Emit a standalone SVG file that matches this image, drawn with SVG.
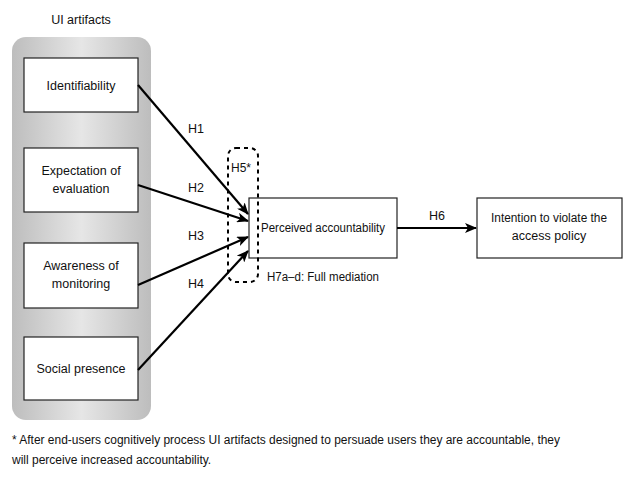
<svg xmlns="http://www.w3.org/2000/svg" width="638" height="478" viewBox="0 0 638 478">
<style>
text{font-family:"Liberation Sans",Arial,sans-serif;font-size:12.5px;fill:#111}
.box{fill:#fff;stroke:#222;stroke-width:1.2}
.c{text-anchor:middle}
.ar{stroke:#000;stroke-width:2.2;fill:none;marker-end:url(#ah)}
</style>
<defs>
<linearGradient id="g" x1="0" x2="1"><stop offset="0" stop-color="#bdbdbd"/><stop offset="0.5" stop-color="#e6e6e6"/><stop offset="1" stop-color="#bdbdbd"/></linearGradient>
<marker id="ah" markerWidth="12" markerHeight="10" refX="11" refY="5" orient="auto" markerUnits="userSpaceOnUse" viewBox="0 0 12 10"><path d="M0,0 L12,5 L0,10 L3,5 z" fill="#000"/></marker>
</defs>
<rect width="638" height="478" fill="#fff"/>
<text x="81" y="24" class="c">UI artifacts</text>
<rect x="12" y="37" width="139" height="383" rx="14" fill="url(#g)"/>
<g id="n1"><rect class="box" x="24" y="58" width="114" height="54"/><text x="81" y="90" class="c">Identifiability</text></g>
<g id="n2"><rect class="box" x="24" y="148" width="114" height="64"/><text x="81" y="175" class="c">Expectation of</text><text x="81" y="193" class="c">evaluation</text></g>
<g id="n3"><rect class="box" x="24" y="243" width="114" height="65"/><text x="81" y="270" class="c">Awareness of</text><text x="81" y="288" class="c">monitoring</text></g>
<g id="n4"><rect class="box" x="24" y="337" width="114" height="63"/><text x="81" y="373" class="c">Social presence</text></g>
<g id="n5"><rect class="box" x="249" y="198" width="148" height="60"/><text x="323" y="232" class="c" textLength="124" lengthAdjust="spacingAndGlyphs">Perceived accountability</text></g>
<g id="n6"><rect class="box" x="477" y="198" width="145" height="60"/><text x="549" y="222" class="c" textLength="116" lengthAdjust="spacingAndGlyphs">Intention to violate the</text><text x="549" y="240" class="c">access policy</text></g>
<g id="h5"><rect x="228" y="148" width="30" height="134" rx="8" fill="none" stroke="#000" stroke-width="2" stroke-dasharray="4,4"/><text x="241" y="172" class="c" style="font-size:12px">H5*</text></g>
<g id="connectors">
<line class="ar" x1="138" y1="85" x2="248" y2="214"/>
<line class="ar" x1="138" y1="185" x2="248" y2="221"/>
<line class="ar" x1="138" y1="285" x2="248" y2="237"/>
<line class="ar" x1="138" y1="370" x2="248" y2="251"/>
<line class="ar" x1="397" y1="228" x2="476" y2="228"/>
</g>
<text x="196" y="133" class="c">H1</text>
<text x="196" y="192" class="c">H2</text>
<text x="196" y="240" class="c">H3</text>
<text x="196" y="288" class="c">H4</text>
<text x="437" y="220" class="c">H6</text>
<text x="267" y="281" textLength="112" lengthAdjust="spacingAndGlyphs">H7a–d: Full mediation</text>
<text x="12" y="444" style="font-size:12px" textLength="548" lengthAdjust="spacingAndGlyphs">* After end-users cognitively process UI artifacts designed to persuade users they are accountable, they</text>
<text x="12" y="464" style="font-size:12px">will perceive increased accountability.</text>
</svg>
